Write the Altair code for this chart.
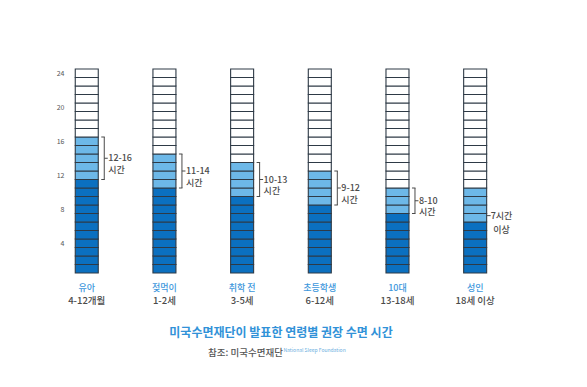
import altair as alt
import pandas as pd

# ---- data ----
groups = ["유아", "젖먹이", "취학 전", "초등학생", "10대", "성인"]
ages = ["4-12개월", "1-2세", "3-5세", "6-12세", "13-18세", "18세 이상"]
light_start = [11, 10, 9, 8, 7, 6]     # top of dark blue cells
light_end = [16, 14, 13, 12, 10, 10]   # top of light blue cells
bracket_lo = [11, 10, 9, 8, 7, None]
bracket_hi = [16, 14, 13, 12, 10, None]
label_at = [13.5, 12, 11, 10, 8.5, 6.75]
range_labels = ["12-16", "11-14", "10-13", "9-12", "8-10", "7시간"]
unit_labels = ["시간", "시간", "시간", "시간", "시간", "이상"]
total_hours = 24
y_ticks = [4, 8, 12, 16, 20, 24]

title_text = "미국수면재단이 발표한 연령별 권장 수면 시간"
source_text = "참조: 미국수면재단"
source_sup = "National Sleep Foundation"

FONT = "Noto Sans CJK KR"
DARK = "#0b70c0"
LIGHT = "#6db8e8"
STROKE = "#2e3a46"
TEXTBLUE = "#3d97dc"
GRAY = "#4a4a4a"

cells = []
for i, g in enumerate(groups):
    for k in range(total_hours):
        if k < light_start[i]:
            kind = "dark"
        elif k < light_end[i]:
            kind = "light"
        else:
            kind = "white"
        cells.append({"pos": i, "group": g, "y0": k, "y1": k + 1, "kind": kind})
cells_df = pd.DataFrame(cells)

info_df = pd.DataFrame({
    "pos": list(range(len(groups))),
    "group": groups,
    "age": ages,
    "lo": bracket_lo,
    "hi": bracket_hi,
    "mid": label_at,
    "rng": range_labels,
    "unit": unit_labels,
})
br_df = info_df.dropna(subset=["lo"])
adult_df = info_df[info_df["lo"].isna()]

W, H = 452, 204
xs = alt.Scale(domain=[-0.19, 5.5], nice=False, zero=False)
ys = alt.Scale(domain=[0, total_hours], nice=False)

X = alt.X("pos:Q", scale=xs, axis=None)

bars = alt.Chart(cells_df).mark_bar(width=23, stroke=STROKE, strokeWidth=1.1).encode(
    x=X,
    y=alt.Y("y0:Q", scale=ys, title=None,
            axis=alt.Axis(values=y_ticks, domain=False, ticks=False, grid=False,
                          labelFont=FONT, labelFontSize=7, labelColor="#555555",
                          labelOffset=4.25, labelPadding=3)),
    y2="y1:Q",
    color=alt.Color("kind:N",
                    scale=alt.Scale(domain=["dark", "light", "white"],
                                    range=[DARK, LIGHT, "#ffffff"]),
                    legend=None),
)

b_vert = alt.Chart(br_df).mark_rule(color=GRAY, strokeWidth=1, xOffset=17.5).encode(
    x=X, y=alt.Y("lo:Q", scale=ys), y2="hi:Q")
b_top = alt.Chart(br_df).mark_rule(color=GRAY, strokeWidth=1, xOffset=14.5, x2Offset=18).encode(
    x=X, x2="pos:Q", y=alt.Y("hi:Q", scale=ys))
b_bot = alt.Chart(br_df).mark_rule(color=GRAY, strokeWidth=1, xOffset=14.5, x2Offset=18).encode(
    x=X, x2="pos:Q", y=alt.Y("lo:Q", scale=ys))
b_mid = alt.Chart(br_df).mark_rule(color=GRAY, strokeWidth=1, xOffset=17.5, x2Offset=21).encode(
    x=X, x2="pos:Q", y=alt.Y("mid:Q", scale=ys))
a_tick = alt.Chart(adult_df).mark_rule(color=GRAY, strokeWidth=1, xOffset=11.5, x2Offset=15.5).encode(
    x=X, x2="pos:Q", y=alt.Y("mid:Q", scale=ys))

rng_txt = alt.Chart(br_df).mark_text(align="left", baseline="middle", xOffset=21.5,
                                     font=FONT, fontSize=9, fontWeight=500, color=GRAY).encode(
    x=X, y=alt.Y("mid:Q", scale=ys), text="rng:N")
unit_txt = alt.Chart(br_df).mark_text(align="left", baseline="middle", xOffset=21.5, yOffset=11.5,
                                      font=FONT, fontSize=9, fontWeight=500, color=GRAY).encode(
    x=X, y=alt.Y("mid:Q", scale=ys), text="unit:N")
a_rng = alt.Chart(adult_df).mark_text(align="left", baseline="middle", xOffset=15.5,
                                      font=FONT, fontSize=9, fontWeight=500, color=GRAY).encode(
    x=X, y=alt.Y("mid:Q", scale=ys), text="rng:N")
a_unit = alt.Chart(adult_df).mark_text(align="left", baseline="middle", xOffset=18, yOffset=14,
                                       font=FONT, fontSize=9, fontWeight=500, color=GRAY).encode(
    x=X, y=alt.Y("mid:Q", scale=ys), text="unit:N")

grp_txt = alt.Chart(info_df).mark_text(baseline="middle", font=FONT, fontSize=9, fontWeight=500,
                                       color=TEXTBLUE).encode(
    x=X, y=alt.value(H + 15), text="group:N")
age_txt = alt.Chart(info_df).mark_text(baseline="middle", font=FONT, fontSize=9.5, fontWeight=500,
                                       color=GRAY).encode(
    x=X, y=alt.value(H + 28), text="age:N")

title_df = pd.DataFrame({"t": [title_text]})
src_df = pd.DataFrame({"t": [source_text]})
sup_df = pd.DataFrame({"t": [source_sup]})
title_mark = alt.Chart(title_df).mark_text(baseline="middle", align="center", font=FONT,
                                           fontSize=12, fontWeight="bold", color="#3192d8").encode(
    x=alt.value(214), y=alt.value(H + 60), text="t:N")
src_mark = alt.Chart(src_df).mark_text(baseline="middle", align="right", font=FONT,
                                       fontSize=9.5, fontWeight=500, color="#555555").encode(
    x=alt.value(216), y=alt.value(H + 80), text="t:N")
sup_mark = alt.Chart(sup_df).mark_text(baseline="middle", align="left", font=FONT,
                                       fontSize=5, color="#6aaee0").encode(
    x=alt.value(216.5), y=alt.value(H + 77), text="t:N")

chart = alt.layer(
    bars, b_vert, b_top, b_bot, b_mid, a_tick,
    rng_txt, unit_txt, a_rng, a_unit,
    grp_txt, age_txt, title_mark, src_mark, sup_mark,
).properties(
    width=W, height=H,
    background="white",
    autosize=alt.AutoSizeParams(type="none"),
    padding={"left": 59, "top": 61, "right": 60, "bottom": 100},
).configure_view(stroke="transparent", strokeWidth=0)

chart.save("out.html", embed_options={"renderer": "svg", "actions": False})
